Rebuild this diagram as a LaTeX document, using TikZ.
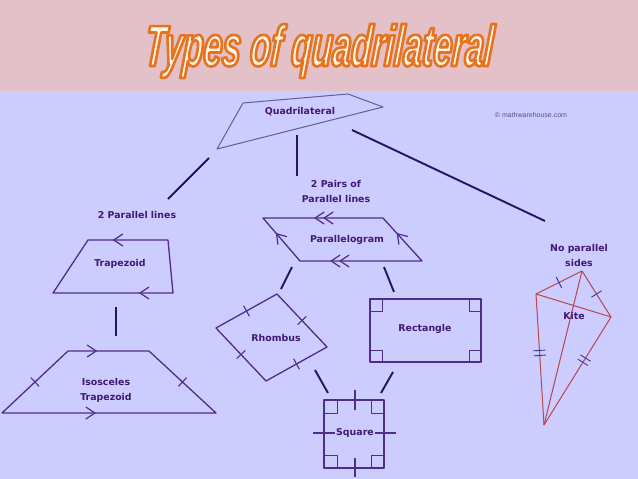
\documentclass[tikz,border=0pt]{standalone}
\usepackage{fontspec}
\setmainfont{DejaVu Sans}
\newfontfamily\titlefont{Liberation Sans}[FakeStretch=0.58,FakeSlant=0.08]
\newfontfamily\smallfont{Liberation Sans}
\usetikzlibrary{arrows.meta,decorations.markings}
\definecolor{lav}{RGB}{204,204,255}
\definecolor{pinkhead}{RGB}{228,192,200}
\definecolor{connc}{RGB}{25,25,100}
\definecolor{shpc}{RGB}{80,45,140}
\definecolor{txtc}{RGB}{65,25,115}
\definecolor{quadc}{RGB}{100,95,140}
\definecolor{kitec}{RGB}{185,70,75}
\definecolor{ticknavy}{RGB}{60,60,140}
\definecolor{orangefill}{RGB}{255,244,226}
\definecolor{copyc}{RGB}{90,80,140}
\tikzset{
  lbl/.style={font=\bfseries\fontsize{9.4}{15}\selectfont, text=txtc, align=center, inner sep=0pt},
  conn/.style={draw=connc, line width=1.9pt},
  shp/.style={draw=shpc, line width=1.3pt, line join=round},
  chevst/.style={draw=shpc, line width=1.2pt, line join=miter},
  tickst/.style={draw=shpc, line width=1.1pt},
  chev/.style={postaction={decorate,decoration={markings,mark=at position #1 with {\draw[chevst] (-6pt,-6pt)--(3pt,0pt)--(-6pt,6pt);}}}},
  chevtwo/.style={postaction={decorate,decoration={markings,mark=at position #1 with {\draw[chevst] (-6pt,-6pt)--(3pt,0pt)--(-6pt,6pt); \draw[chevst] (-15pt,-6pt)--(-6pt,0pt)--(-15pt,6pt);}}}},
  tickone/.style={postaction={decorate,decoration={markings,mark=at position #1 with {\draw[tickst] (0pt,-6pt)--(0pt,6pt);}}}},
  kitetick/.style={postaction={decorate,decoration={markings,mark=at position #1 with {\draw[draw=ticknavy,line width=0.9pt] (0pt,-6pt)--(0pt,6pt);}}}},
  kitetwo/.style={postaction={decorate,decoration={markings,mark=at position #1 with {\draw[draw=ticknavy,line width=0.9pt] (-2.5pt,-6pt)--(-2.5pt,6pt); \draw[draw=ticknavy,line width=0.9pt] (2.5pt,-6pt)--(2.5pt,6pt);}}}},
  titlest/.style={font=\titlefont\bfseries\itshape\fontsize{58}{60}\selectfont, anchor=base, inner sep=0pt},
}
\begin{document}
\begin{tikzpicture}[x=1pt,y=-1pt]
\useasboundingbox (0,0) rectangle (638,479);
\fill[lav] (0,0) rectangle (638,479);
\fill[pinkhead] (0,0) rectangle (638,91);
% title: filled and outlined text (PDF text render mode 2)
\node[titlest, text=orangefill] (title) at (318,66) {\special{pdf:literal direct 2 Tr 2.6 w 1 j 0.9 0.45 0.12 RG}Types of quadrilateral\special{pdf:literal direct 0 Tr}};
% copyright
\node[font=\smallfont\fontsize{7}{8}\selectfont, text=copyc] (copy) at (531,115) {© mathwarehouse.com};
% quadrilateral
\draw[draw=quadc, line width=1pt, line join=round] (243,103)--(348,94)--(383,107)--(217,149)--cycle;
\node[lbl] (quad) at (300,112) {Quadrilateral};
% labels
\node[lbl] (pairs) at (336,191) {2 Pairs of\\Parallel lines};
\node[lbl] (twopl) at (137,215) {2 Parallel lines};
\node[lbl] (nopar) at (579,255) {No parallel\\sides};
% connectors
\coordinate (c1a) at (209,158); \coordinate (c1b) at (168,199);
\coordinate (c2a) at (297,135); \coordinate (c2b) at (297,176);
\coordinate (c3a) at (352,130); \coordinate (c3b) at (545,221);
\coordinate (c4a) at (116,307); \coordinate (c4b) at (116,336);
\coordinate (c5a) at (292,267); \coordinate (c5b) at (281,289);
\coordinate (c6a) at (384,267); \coordinate (c6b) at (394,292);
\coordinate (c7a) at (315,370); \coordinate (c7b) at (328,393);
\coordinate (c8a) at (393,372); \coordinate (c8b) at (381,393);
\foreach \i in {1,...,8} \draw[conn] (c\i a)--(c\i b);
% trapezoid
\draw[shp] (88,240)--(168,240)--(173,293)--(53,293)--cycle;
\path[chev=0.64] (168,240)--(88,240);
\path[chev=0.25] (173,293)--(53,293);
\node[lbl] (trap) at (120,264) {Trapezoid};
% isosceles trapezoid
\draw[shp] (68,351)--(149,351)--(216,413)--(2,413)--cycle;
\path[chev=0.31] (68,351)--(149,351);
\path[chev=0.42] (2,413)--(216,413);
\path[tickone=0.5] (2,413)--(68,351);
\path[tickone=0.5] (149,351)--(216,413);
\node[lbl] (iso) at (106,390) {Isosceles\\Trapezoid};
% parallelogram
\draw[shp] (263,218)--(383,218)--(422,261)--(300,261)--cycle;
\path[chevtwo=0.54] (383,218)--(263,218);
\path[chevtwo=0.72] (422,261)--(300,261);
\path[chev=0.58] (300,261)--(263,218);
\path[chev=0.58] (422,261)--(383,218);
\node[lbl] (pgram) at (347,240) {Parallelogram};
% rhombus
\draw[shp] (277,294)--(327,347)--(266,381)--(216,328)--cycle;
\path[tickone=0.5] (277,294)--(327,347);
\path[tickone=0.5] (327,347)--(266,381);
\path[tickone=0.5] (266,381)--(216,328);
\path[tickone=0.5] (216,328)--(277,294);
\node[lbl] (rhomb) at (276,338) {Rhombus};
% rectangle
\draw[shp] (370,299) rectangle (481,362);
\draw[shp, line width=1pt] (370,311)-|(382,299) (469,299)|-(481,311) (481,350)-|(469,362) (382,362)|-(370,350);
\node[lbl] (rect) at (425,329) {Rectangle};
% square
\draw[shp] (324,400) rectangle (384,468);
\draw[shp, line width=1pt] (324,413)-|(337,400) (371,400)|-(384,413) (384,455)-|(371,468) (337,468)|-(324,455);
\draw[tickst] (355,390)--(355,410) (355,458)--(355,477) (313,433)--(335,433) (375,433)--(396,433);
\node[lbl] (sq) at (355,433) {Square};
% kite
\draw[draw=kitec, line width=1pt, line join=round] (536,294)--(582,271)--(611,317)--(544,425)--cycle;
\draw[draw=kitec, line width=1pt] (536,294)--(611,317) (582,271)--(544,425);
\path[kitetick=0.5] (536,294)--(582,271);
\path[kitetick=0.5] (582,271)--(611,317);
\path[kitetwo=0.45] (536,294)--(544,425);
\path[kitetwo=0.4] (611,317)--(544,425);
\node[lbl] (kite) at (574,316) {Kite};
\end{tikzpicture}
\end{document}
